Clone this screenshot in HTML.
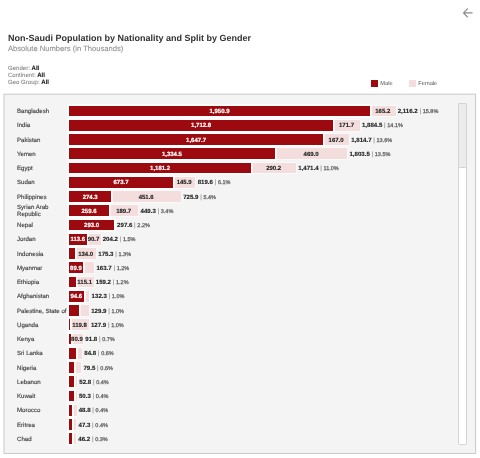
<!DOCTYPE html>
<html><head><meta charset="utf-8">
<style>
html,body{margin:0;padding:0;background:#fff;width:480px;height:458px;overflow:hidden;position:relative;font-family:"Liberation Sans",sans-serif;text-rendering:geometricPrecision;}
.t{position:absolute;white-space:nowrap;}
#title{left:8px;top:33px;font-size:9px;font-weight:bold;color:#333;line-height:10px;}
#sub{left:8px;top:43.9px;font-size:7.62px;color:#909090;-webkit-text-stroke:0.1px #909090;line-height:9px;}
.flt{left:8px;font-size:6.05px;color:#8e8e8e;line-height:7px;-webkit-text-stroke:0.12px #8e8e8e;}
.flt b{color:#222;-webkit-text-stroke:0.12px #222;}
.leg{position:absolute;top:80px;width:6.6px;height:6.6px;}
.legt{position:absolute;top:81.2px;font-size:5.7px;color:#555;line-height:7px;white-space:nowrap;}
.lab{position:absolute;left:17px;font-size:6.1px;color:#444;-webkit-text-stroke:0.15px #444;line-height:7px;white-space:nowrap;}
.bm{position:absolute;left:69.0px;height:10.9px;background:#9c0a0f;box-shadow:0 0 0 1.6px #fff;}
.bf{position:absolute;height:10.9px;background:#f4dddd;box-shadow:0 0 0 0.5px #fff;}
.vm,.vf{position:absolute;width:100px;text-align:center;font-size:6px;font-weight:bold;white-space:nowrap;line-height:7px;}
.vm{color:#fff;-webkit-text-stroke:0.2px #fff;}
.vf{color:#222;-webkit-text-stroke:0.12px #222;}
.tot{position:absolute;font-size:6.1px;color:#222;-webkit-text-stroke:0.12px #222;white-space:nowrap;line-height:7px;}
.tot i{font-style:normal;color:#888;-webkit-text-stroke:0.1px #888;}
.tot s{text-decoration:none;font-size:5.5px;color:#5c5c5c;-webkit-text-stroke:0.25px #5c5c5c;}
#sb{position:absolute;left:458px;top:103px;width:9px;height:342px;border-radius:1.5px;box-sizing:border-box;border:1px solid #d4d4d4;background:#fff;}
#thumb{position:absolute;left:458px;top:103px;width:9px;height:65px;border-radius:1.5px;box-sizing:border-box;border:1px solid #d4d4d4;background:#ececec;}
</style></head><body><div id="wrap" style="position:absolute;left:0;top:0;width:480px;height:458px;will-change:transform">
<svg style="position:absolute;left:460px;top:6px" width="16" height="14" viewBox="460 6 16 14"><path d="M467.8 8.4 L463.6 12.9 L467.8 17.4 M463.9 12.9 L472.5 12.9" fill="none" stroke="#8a8a8a" stroke-width="1.2"/></svg>
<div id="title" class="t">Non-Saudi Population by Nationality and Split by Gender</div>
<div id="sub" class="t">Absolute Numbers (in Thousands)</div>
<div class="t flt" style="top:65.9px">Gender: <b>All</b></div>
<div class="t flt" style="top:72.5px">Continent: <b>All</b></div>
<div class="t flt" style="top:79.7px">Geo Group: <b>All</b></div>
<div class="leg" style="left:371.2px;background:#9c0a0f"></div>
<div class="legt" style="left:380.3px">Male</div>
<div class="leg" style="left:409.2px;background:#f4dddd"></div>
<div class="legt" style="left:418.3px">Female</div>
<svg style="position:absolute;left:0;top:0" width="480" height="458"><rect x="4" y="94.2" width="471.6" height="359.2" fill="#f4f4f4" stroke="#c9c9c9" stroke-width="1"/></svg>
<div id="sb"></div>
<div id="thumb"></div>
<div class="lab" style="top:108.05px">Bangladesh</div>
<div class="bf" style="top:105.60px;left:370.02px;width:25.49px"></div>
<div class="bm" style="top:105.60px;width:301.02px"></div>
<div class="vf" style="top:109.05px;left:332.77px">165.2</div>
<div class="vm" style="top:109.05px;left:169.51px">1,950.9</div>
<div class="tot" style="top:108.05px;left:397.71px"><b>2,116.2</b> <i>| </i><s>15.8%</s></div>
<div class="lab" style="top:122.30px">India</div>
<div class="bf" style="top:119.85px;left:333.29px;width:26.49px"></div>
<div class="bm" style="top:119.85px;width:264.29px"></div>
<div class="vf" style="top:123.30px;left:296.53px">171.7</div>
<div class="vm" style="top:123.30px;left:151.14px">1,712.8</div>
<div class="tot" style="top:122.30px;left:361.98px"><b>1,884.5</b> <i>| </i><s>14.1%</s></div>
<div class="lab" style="top:136.55px">Pakistan</div>
<div class="bf" style="top:134.10px;left:323.24px;width:25.77px"></div>
<div class="bm" style="top:134.10px;width:254.24px"></div>
<div class="vf" style="top:137.55px;left:286.12px">167.0</div>
<div class="vm" style="top:137.55px;left:146.12px">1,647.7</div>
<div class="tot" style="top:136.55px;left:351.21px"><b>1,814.7</b> <i>| </i><s>13.6%</s></div>
<div class="lab" style="top:150.80px">Yemen</div>
<div class="bf" style="top:148.35px;left:274.91px;width:72.37px"></div>
<div class="bm" style="top:148.35px;width:205.91px"></div>
<div class="vf" style="top:151.80px;left:261.10px">469.0</div>
<div class="vm" style="top:151.80px;left:121.96px">1,334.5</div>
<div class="tot" style="top:150.80px;left:349.48px"><b>1,803.5</b> <i>| </i><s>13.5%</s></div>
<div class="lab" style="top:165.05px">Egypt</div>
<div class="bf" style="top:162.60px;left:251.26px;width:44.78px"></div>
<div class="bm" style="top:162.60px;width:182.26px"></div>
<div class="vf" style="top:166.05px;left:223.65px">290.2</div>
<div class="vm" style="top:166.05px;left:110.13px">1,181.2</div>
<div class="tot" style="top:165.05px;left:298.24px"><b>1,471.4</b> <i>| </i><s>11.0%</s></div>
<div class="lab" style="top:179.30px">Sudan</div>
<div class="bf" style="top:176.85px;left:172.95px;width:22.51px"></div>
<div class="bm" style="top:176.85px;width:103.95px"></div>
<div class="vf" style="top:180.30px;left:134.21px">145.9</div>
<div class="vm" style="top:180.30px;left:70.98px">673.7</div>
<div class="tot" style="top:179.30px;left:197.66px"><b>819.6</b> <i>| </i><s>6.1%</s></div>
<div class="lab" style="top:193.55px">Philippines</div>
<div class="bf" style="top:191.10px;left:111.32px;width:69.68px"></div>
<div class="bm" style="top:191.10px;width:42.32px"></div>
<div class="vf" style="top:194.55px;left:96.17px">451.6</div>
<div class="vm" style="top:194.55px;left:40.16px">274.3</div>
<div class="tot" style="top:193.55px;left:183.21px"><b>725.9</b> <i>| </i><s>5.4%</s></div>
<div class="lab" style="top:204.60px;line-height:6.9px">Syrian Arab<br>Republic</div>
<div class="bf" style="top:205.35px;left:109.06px;width:29.27px"></div>
<div class="bm" style="top:205.35px;width:40.06px"></div>
<div class="vf" style="top:208.80px;left:73.69px">189.7</div>
<div class="vm" style="top:208.80px;left:39.03px">259.6</div>
<div class="tot" style="top:207.80px;left:140.53px"><b>449.3</b> <i>| </i><s>3.4%</s></div>
<div class="lab" style="top:222.05px">Nepal</div>
<div class="bf" style="top:219.60px;left:114.21px;width:0.71px"></div>
<div class="bm" style="top:219.60px;width:45.21px"></div>
<div class="vm" style="top:223.05px;left:41.60px">293.0</div>
<div class="tot" style="top:222.05px;left:117.12px"><b>297.6</b> <i>| </i><s>2.2%</s></div>
<div class="lab" style="top:236.30px">Jordan</div>
<div class="bf" style="top:233.85px;left:86.53px;width:14.00px"></div>
<div class="bm" style="top:233.85px;width:17.53px"></div>
<div class="vf" style="top:237.30px;left:43.53px">90.7</div>
<div class="vm" style="top:237.30px;left:27.76px">113.6</div>
<div class="tot" style="top:236.30px;left:102.72px"><b>204.2</b> <i>| </i><s>1.5%</s></div>
<div class="lab" style="top:250.55px">Indonesia</div>
<div class="bf" style="top:248.10px;left:75.37px;width:20.68px"></div>
<div class="bm" style="top:248.10px;width:6.37px"></div>
<div class="vf" style="top:251.55px;left:35.71px">134.0</div>
<div class="tot" style="top:250.55px;left:98.25px"><b>175.3</b> <i>| </i><s>1.3%</s></div>
<div class="lab" style="top:264.80px">Myanmar</div>
<div class="bf" style="top:262.35px;left:82.87px;width:11.39px"></div>
<div class="bm" style="top:262.35px;width:13.87px"></div>
<div class="vm" style="top:265.80px;left:25.94px">89.9</div>
<div class="tot" style="top:264.80px;left:96.46px"><b>163.7</b> <i>| </i><s>1.2%</s></div>
<div class="lab" style="top:279.05px">Ethiopia</div>
<div class="bf" style="top:276.60px;left:75.80px;width:17.76px"></div>
<div class="bm" style="top:276.60px;width:6.80px"></div>
<div class="vf" style="top:280.05px;left:34.68px">115.1</div>
<div class="tot" style="top:279.05px;left:95.76px"><b>159.2</b> <i>| </i><s>1.2%</s></div>
<div class="lab" style="top:293.30px">Afghanistan</div>
<div class="bf" style="top:290.85px;left:83.60px;width:5.82px"></div>
<div class="bm" style="top:290.85px;width:14.60px"></div>
<div class="vm" style="top:294.30px;left:26.30px">94.6</div>
<div class="tot" style="top:293.30px;left:91.61px"><b>132.3</b> <i>| </i><s>1.0%</s></div>
<div class="lab" style="top:307.55px">Palestine, State of</div>
<div class="bf" style="top:305.10px;left:79.18px;width:9.86px"></div>
<div class="bm" style="top:305.10px;width:10.18px"></div>
<div class="tot" style="top:307.55px;left:91.24px"><b>129.9</b> <i>| </i><s>1.0%</s></div>
<div class="lab" style="top:321.80px">Uganda</div>
<div class="bf" style="top:319.35px;left:70.25px;width:18.49px"></div>
<div class="bm" style="top:319.35px;width:1.25px"></div>
<div class="vf" style="top:322.80px;left:29.49px">119.8</div>
<div class="tot" style="top:321.80px;left:90.93px"><b>127.9</b> <i>| </i><s>1.0%</s></div>
<div class="lab" style="top:336.05px">Kenya</div>
<div class="bf" style="top:333.60px;left:70.68px;width:12.48px"></div>
<div class="bm" style="top:333.60px;width:1.68px"></div>
<div class="vf" style="top:337.05px;left:26.92px">80.9</div>
<div class="tot" style="top:336.05px;left:85.36px"><b>91.8</b> <i>| </i><s>0.7%</s></div>
<div class="lab" style="top:350.30px">Sri Lanka</div>
<div class="bf" style="top:347.85px;left:76.41px;width:5.68px"></div>
<div class="bm" style="top:347.85px;width:7.41px"></div>
<div class="tot" style="top:350.30px;left:84.28px"><b>84.8</b> <i>| </i><s>0.6%</s></div>
<div class="lab" style="top:364.55px">Nigeria</div>
<div class="bf" style="top:362.10px;left:74.49px;width:6.77px"></div>
<div class="bm" style="top:362.10px;width:5.49px"></div>
<div class="tot" style="top:364.55px;left:83.47px"><b>79.5</b> <i>| </i><s>0.6%</s></div>
<div class="lab" style="top:378.80px">Lebanon</div>
<div class="bf" style="top:376.35px;left:74.09px;width:3.06px"></div>
<div class="bm" style="top:376.35px;width:5.09px"></div>
<div class="tot" style="top:378.80px;left:79.35px"><b>52.8</b> <i>| </i><s>0.4%</s></div>
<div class="lab" style="top:393.05px">Kuwait</div>
<div class="bf" style="top:390.60px;left:73.63px;width:3.13px"></div>
<div class="bm" style="top:390.60px;width:4.63px"></div>
<div class="tot" style="top:393.05px;left:78.96px"><b>50.3</b> <i>| </i><s>0.4%</s></div>
<div class="lab" style="top:407.30px">Morocco</div>
<div class="bf" style="top:404.85px;left:71.93px;width:4.60px"></div>
<div class="bm" style="top:404.85px;width:2.93px"></div>
<div class="tot" style="top:407.30px;left:78.73px"><b>48.8</b> <i>| </i><s>0.4%</s></div>
<div class="lab" style="top:421.55px">Eritrea</div>
<div class="bf" style="top:419.10px;left:72.09px;width:4.21px"></div>
<div class="bm" style="top:419.10px;width:3.09px"></div>
<div class="tot" style="top:421.55px;left:78.50px"><b>47.3</b> <i>| </i><s>0.4%</s></div>
<div class="lab" style="top:435.80px">Chad</div>
<div class="bf" style="top:433.35px;left:72.09px;width:4.04px"></div>
<div class="bm" style="top:433.35px;width:3.09px"></div>
<div class="tot" style="top:435.80px;left:78.33px"><b>46.2</b> <i>| </i><s>0.3%</s></div>
</div></body></html>
